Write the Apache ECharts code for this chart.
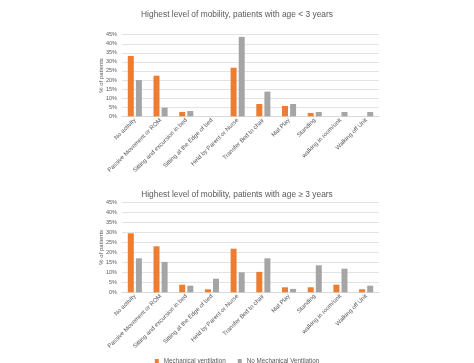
<!DOCTYPE html>
<html><head><meta charset="utf-8">
<script src="https://cdn.jsdelivr.net/npm/echarts@6/dist/echarts.min.js"></script>
<style>html,body{margin:0;padding:0;background:#fff}#c{width:474px;height:363px}</style>
</head><body><div id="c"></div>
<script>
const categories = ["No activity","Passive Movement or ROM","Sitting and excursion in bed","Sitting at the Edge of bed","Held by Parent or Nurse","Transfer Bed to chair","Mat Play","Standing","walking in room/unit","Walking off Unit"];
const seriesNames = ["Mechanical ventilation","No Mechanical Ventilation"];
const youngMV   = [33.3, 22.4, 2.4, 0, 26.8, 6.8, 5.7, 1.8, 0, 0];
const youngNoMV = [20.0, 4.8, 2.9, 0, 43.8, 13.6, 6.8, 2.4, 2.4, 2.4];
const oldMV     = [29.5, 23.0, 3.8, 1.5, 21.8, 10.2, 2.5, 2.5, 3.8, 1.5];
const oldNoMV   = [17.0, 15.2, 3.3, 6.8, 10.0, 17.0, 1.7, 13.5, 11.8, 3.3];
const titles = ["Highest level of mobility, patients with age < 3 years","Highest level of mobility, patients with age \u2265 3 years"];
const yAxisName = "% of patients";

const FONT = "Liberation Sans";
const TXT = "#595959";
const ORANGE = "#ED7D31", GRAY = "#A5A5A5";
const chart = echarts.init(document.getElementById('c'), null, {renderer:'canvas'});
const grids = [
  {left:122, width:257, top:34.7, height:81.6},
  {left:122, width:257, top:202.3, height:90}
];
function xAx(i){return {type:'category', gridIndex:i, data:categories,
  axisTick:{show:false}, axisLine:{lineStyle:{color:'#D9D9D9'}},
  axisLabel:{rotate:45, interval:0, fontSize:6, color:TXT, fontFamily:FONT, margin:3}};}
function yAx(i){return {type:'value', gridIndex:i, min:0, max:45, interval:5,
  name:yAxisName, nameLocation:'middle', nameGap:18, nameMoveOverlap:false,
  nameTextStyle:{fontSize:6, color:TXT, fontFamily:FONT},
  axisLine:{show:false}, axisTick:{show:false},
  splitLine:{lineStyle:{color:'#E3E3E3', width:1}},
  axisLabel:{formatter:'{value}%', fontSize:5.5, color:TXT, fontFamily:FONT, margin:5}};}
function bar(name, data, color, i){return {type:'bar', name, data, xAxisIndex:i, yAxisIndex:i,
  barWidth:6, barGap:'35%', itemStyle:{color}};}
chart.setOption({
  animation:false,
  title:[
    {text:titles[0], left:'center', top:6, textStyle:{fontSize:8.4, fontWeight:'normal', color:TXT, fontFamily:FONT}},
    {text:titles[1], left:'center', top:186, textStyle:{fontSize:8.4, fontWeight:'normal', color:TXT, fontFamily:FONT}}
  ],
  legend:{data:seriesNames, top:353, left:'center', itemWidth:4, itemHeight:4, itemGap:12, icon:'rect',
    textStyle:{fontSize:6.3, color:TXT, fontFamily:FONT}},
  grid:grids,
  xAxis:[xAx(0), xAx(1)],
  yAxis:[yAx(0), yAx(1)],
  series:[
    bar(seriesNames[0], youngMV, ORANGE, 0),
    bar(seriesNames[1], youngNoMV, GRAY, 0),
    bar(seriesNames[0], oldMV, ORANGE, 1),
    bar(seriesNames[1], oldNoMV, GRAY, 1)
  ]
});
</script></body></html>
